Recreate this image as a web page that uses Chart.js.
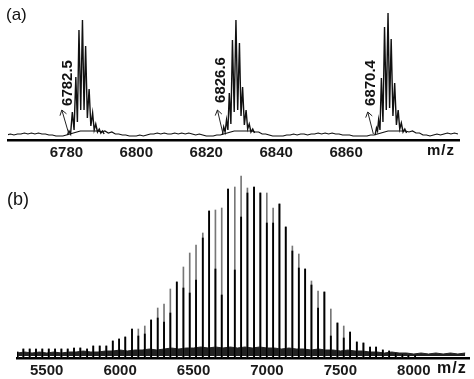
<!DOCTYPE html>
<html lang="en">
<head>
  <meta charset="UTF-8" />
  <title>Mass spectrum</title>
  <script src="https://cdn.jsdelivr.net/npm/chart.js"></script>
  <style>
    body { margin: 0; background: #fff; }
    .wrap { position: relative; width: 474px; height: 379px; overflow: hidden; }
    canvas { position: absolute; left: 0; }
    .tag { position: absolute; font-family: "Liberation Sans", Arial, sans-serif; color: #111; line-height: 1; white-space: nowrap; }
    .panel { font-weight: normal; }
    .mz { font-weight: bold; letter-spacing: 1px; }
  </style>
</head>
<body>
<div class="wrap">
  <canvas id="chartA" width="474" height="160" style="top:0"></canvas>
  <canvas id="chartB" width="474" height="219" style="top:160px"></canvas>
  <div class="tag panel" style="left:6px;top:6px;font-size:17px">(a)</div>
  <div class="tag panel" style="left:7px;top:190px;font-size:18px">(b)</div>
  <div class="tag mz" style="left:427px;top:142px;font-size:15px">m/z</div>
  <div class="tag mz" style="left:437px;top:360px;font-size:16px">m/z</div>
</div>

<script>
  // ---------- panel (a): three isotope clusters ----------
  const tickA = [6780, 6800, 6820, 6840, 6860];

  // baseline noise, one value per Da starting at 6763
  const noiseAStart = 6763;
  const noiseA = [5, 6, 5, 6, 6, 7, 6, 7, 6, 7, 6, 6, 5, 5, 4, 4, 4, 5,
    6, 7, 8, 9, 9, 9, 9, 9, 9, 8,
    9, 7, 8, 6, 6, 5, 5, 4, 4, 4, 5, 4, 5, 6, 6, 7, 6, 7, 6, 6, 7, 6, 7, 6, 7, 6, 5, 6, 5, 4, 4, 4, 5, 5,
    6, 7, 8, 9, 9, 9, 9, 9, 9, 8,
    8, 6, 6, 5, 4, 4, 4, 4, 5, 5, 6, 5, 6, 6, 5, 6, 6, 7, 6, 7, 6, 7, 6, 6, 5, 5, 5, 4, 4, 4, 4, 4, 5, 5,
    6, 7, 8, 9, 9, 9, 9, 9, 9, 8,
    9, 7, 7, 5, 5, 4, 5, 6, 5, 6, 7, 6, 7, 6];

  const c1Mz  = [6780.3, 6780.75, 6781.2, 6781.7, 6782.2, 6782.7, 6783.15, 6783.6, 6784.1, 6784.6, 6785.05, 6785.5, 6786.0, 6786.5, 6787.0, 6787.5, 6787.95, 6788.4, 6788.9, 6789.4, 6789.85, 6790.3, 6790.8];
  const c1Int = [5, 9, 6, 28, 10, 63, 18, 110, 30, 120, 30, 94, 22, 51, 14, 27, 10, 16, 8, 11, 7, 9, 6];

  const c2Mz  = [6824.6, 6825.0, 6825.4, 6825.8, 6826.2, 6826.6, 6827.05, 6827.5, 6828.0, 6828.5, 6829.0, 6829.5, 6829.95, 6830.4, 6830.9, 6831.4, 6831.85, 6832.3, 6832.8, 6833.3, 6833.8];
  const c2Int = [5, 13, 8, 20, 10, 47, 16, 100, 28, 120, 30, 97, 24, 53, 15, 30, 11, 16, 8, 11, 7];

  const c3Mz  = [6868.3, 6868.7, 6869.0, 6869.3, 6869.7, 6870.1, 6870.55, 6871.0, 6871.5, 6872.0, 6872.45, 6872.9, 6873.4, 6873.9, 6874.4, 6874.9, 6875.35, 6875.8, 6876.3, 6876.8, 6877.3];
  const c3Int = [5, 12, 9, 20, 10, 62, 18, 113, 30, 127, 32, 101, 24, 57, 15, 30, 11, 17, 8, 11, 7];

  const massLabels = ['6782.5', '6826.6', '6870.4'];

  // ---------- panel (b): full envelope ----------
  const tickB = [5500, 6000, 6500, 7000, 7500, 8000];

  const peakMz = [5302, 5341, 5384, 5427, 5470, 5514, 5557, 5600, 5643, 5686, 5729, 5775, 5817, 5861, 5906, 5950, 5993, 6035,
    6081, 6124, 6168, 6211, 6256, 6299, 6342, 6386, 6431, 6474, 6517, 6563, 6606, 6649, 6692, 6735, 6781, 6824,
    6867, 6912, 6955, 6999, 7042, 7085, 7128, 7173, 7217, 7260, 7303, 7348, 7391, 7435, 7480, 7523, 7566, 7612,
    7657, 7702, 7743, 7789, 7832, 7877, 7922, 7963, 8009];
  const peakTop = [6, 9, 9, 9, 9, 9, 9, 9, 9, 10, 10, 9, 12, 12, 12, 17, 19, 21,
    29, 29, 32, 38, 50, 54, 69, 76, 91, 105, 113, 125, 147, 148, 150, 169, 171, 182,
    170, 171, 165, 165, 150, 154, 131, 112, 104, 89, 77, 67, 66, 49, 35, 32, 26, 16,
    15, 11, 11, 8, 7, 5, 4, 3, 3];
  const peakLow = [6, 9, 9, 9, 9, 9, 9, 9, 9, 10, 10, 9, 12, 12, 12, 17, 19, 21,
    29, 22, 24, 38, 40, 36, 45, 76, 70, 65, 78, 120, 147, 89, 63, 169, 88, 141,
    165, 171, 165, 135, 135, 154, 131, 107, 90, 89, 73, 50, 66, 22, 35, 20, 26, 16,
    15, 11, 11, 8, 7, 5, 4, 3, 3];

  // noise band, one value every 50 Da from 5300
  const noiseBStart = 5300;
  const noiseB = [5, 6, 5, 6, 5, 6, 5, 6, 6, 7, 6, 6, 7, 7, 8, 7, 8, 8, 9, 8, 9, 10, 9, 10, 10, 11, 10, 11, 10, 11, 10,
    11, 10, 11, 10, 10, 9, 10, 9, 9, 8, 9, 8, 8, 7, 8, 7, 7, 6, 6, 5, 6, 5, 5, 4, 5, 4, 5, 4, 5, 4, 5];

  const tickFont = { family: "'Liberation Sans Narrow', 'Liberation Sans', Arial, sans-serif", size: 15, weight: 'bold' };

  function xAxis(min, max, ticks, h) {
    return {
      type: 'linear', min, max, offset: false,
      grid: { display: false, drawTicks: false },
      border: { display: true, color: '#000', width: 2.5 },
      afterBuildTicks: s => { s.ticks = ticks.map(v => ({ value: v })); },
      afterFit: s => { s.height = h; },
      ticks: { autoSkip: false, maxRotation: 0, padding: 4, color: '#1a1a1a', font: tickFont,
               callback: v => String(v) }
    };
  }

  const massTags = {
    id: 'massTags',
    afterDatasetsDraw(chart) {
      const { ctx, scales: { x, y } } = chart;
      const spots = [[6780.4, 57], [6824.1, 60], [6867.2, 57]];
      const arrows = [[6778.7, 30, 6780.7, 6], [6823.2, 30, 6824.8, 6], [6866.2, 28, 6867.8, 6]];
      ctx.save();
      ctx.fillStyle = '#111';
      ctx.strokeStyle = '#222';
      ctx.lineWidth = 1;
      ctx.font = 'bold 15px "Liberation Sans", Arial, sans-serif';
      massLabels.forEach((txt, i) => {
        ctx.save();
        ctx.translate(x.getPixelForValue(spots[i][0]), y.getPixelForValue(spots[i][1]));
        ctx.rotate(-Math.PI / 2);
        ctx.textAlign = 'center';
        ctx.textBaseline = 'middle';
        ctx.fillText(txt, 0, 0);
        ctx.restore();

        const a = arrows[i];
        const tx = x.getPixelForValue(a[0]), ty = y.getPixelForValue(a[1]);
        const bx = x.getPixelForValue(a[2]), by = y.getPixelForValue(a[3]);
        const ang = Math.atan2(ty - by, tx - bx);
        ctx.beginPath();
        ctx.moveTo(bx, by);
        ctx.lineTo(tx, ty);
        ctx.moveTo(tx - 6 * Math.cos(ang - 0.6), ty - 6 * Math.sin(ang - 0.6));
        ctx.lineTo(tx, ty);
        ctx.lineTo(tx - 6 * Math.cos(ang + 0.6), ty - 6 * Math.sin(ang + 0.6));
        ctx.stroke();
      });
      ctx.restore();
    }
  };

  const zip = (xs, ys) => xs.map((v, i) => ({ x: v, y: ys[i] }));
  const lineStyle = { borderColor: '#111', borderWidth: 1.4, pointRadius: 0, tension: 0 };

  new Chart(document.getElementById('chartA'), {
    type: 'line',
    data: {
      datasets: [
        { ...lineStyle, data: zip(c1Mz, c1Int) },
        { ...lineStyle, data: zip(c2Mz, c2Int) },
        { ...lineStyle, data: zip(c3Mz, c3Int) },
        { ...lineStyle, borderWidth: 1.2, data: noiseA.map((v, i) => ({ x: noiseAStart + i, y: v })) }
      ]
    },
    options: {
      responsive: false, animation: false, devicePixelRatio: 1,
      layout: { padding: { left: 8, right: 15, top: 10, bottom: 0 } },
      plugins: { legend: { display: false }, tooltip: { enabled: false } },
      scales: {
        x: xAxis(6763.3, 6892.3, tickA, 20),
        y: { display: false, min: 0, max: 130 }
      }
    },
    plugins: [massTags]
  });

  new Chart(document.getElementById('chartB'), {
    type: 'bar',
    data: {
      datasets: [
        { type: 'bar', order: 0, grouped: false, barThickness: 1.2, backgroundColor: '#000', data: zip(peakMz, peakLow) },
        { type: 'bar', order: 1, grouped: false, barThickness: 1, backgroundColor: '#777', data: zip(peakMz, peakTop) },
        { type: 'line', order: 2, borderColor: '#222', backgroundColor: '#222', borderWidth: 1, pointRadius: 0,
          fill: { value: 2 }, data: noiseB.map((v, i) => ({ x: noiseBStart + 50 * i, y: v })) }
      ]
    },
    options: {
      responsive: false, animation: false, devicePixelRatio: 1,
      layout: { padding: { left: 17, right: 5, top: 10, bottom: 0 } },
      plugins: { legend: { display: false }, tooltip: { enabled: false } },
      scales: {
        x: xAxis(5297.7, 8376, tickB, 21),
        y: { display: false, min: 0, max: 188 }
      }
    }
  });
</script>
</body>
</html>
